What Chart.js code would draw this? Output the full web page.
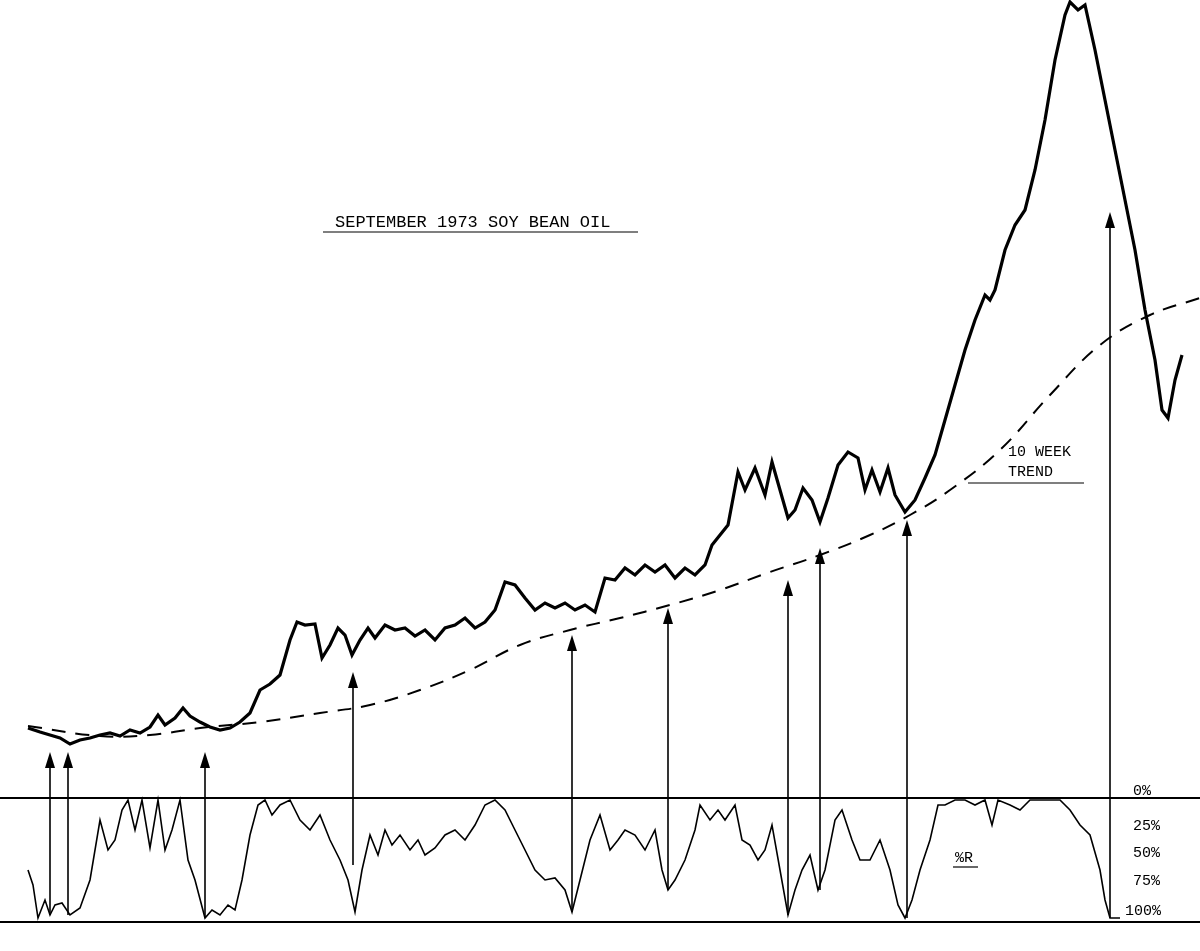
<!DOCTYPE html>
<html><head><meta charset="utf-8">
<script src="https://cdn.jsdelivr.net/npm/chart.js@4"></script>
<style>html,body{margin:0;padding:0;background:#fff}#w{width:1200px;height:951px}</style>
</head><body><div id="w"><canvas id="c"></canvas></div>
<script>
// Session positions and price (arbitrary chart units)
const priceX=[28,40,50,60,70,80,90,100,110,120,130,140,150,158,165,175,183,190,200,210,220,230,240,250,260,270,280,290,297,305,315,322,330,338,345,352,360,368,375,385,395,405,415,425,435,445,455,465,475,485,495,505,515,525,535,545,555,565,575,585,595,605,615,625,635,645,655,665,675,685,695,705,712,720,728,738,745,755,765,772,780,788,795,803,812,820,828,838,848,858,865,872,880,888,895,905,915,925,935,945,955,965,975,985,990,995,1005,1015,1025,1035,1045,1055,1065,1070,1078,1085,1095,1105,1115,1125,1135,1145,1155,1162,1168,1175,1182];
const priceY=[728,732,735,738,744,740,738,735,733,736,730,733,727,715,725,718,708,716,722,727,730,728,722,713,690,684,675,640,622,625,624,658,645,628,635,655,640,628,638,625,630,628,636,630,640,628,625,618,628,622,610,582,585,598,610,603,608,603,610,605,612,578,580,568,575,565,572,565,578,568,575,565,545,535,525,472,490,468,495,462,490,518,510,488,500,522,498,465,452,458,490,470,492,468,495,512,500,478,455,420,385,350,320,295,300,290,250,225,210,170,120,60,15,2,10,5,50,100,150,200,250,310,360,410,418,380,355];
const trendX=[28,100,150,200,260,320,370,420,470,520,570,620,670,720,770,820,870,910,950,1000,1050,1100,1150,1200];
const trendY=[726,736,735,728,722,713,705,690,670,645,630,618,605,590,572,555,535,515,490,450,395,345,315,298];
const rX=[28,33,38,45,50,55,62,70,80,90,100,108,115,122,128,135,142,150,158,165,172,180,188,195,205,212,220,228,235,242,250,258,265,272,280,290,300,310,320,330,340,348,355,362,370,378,385,392,400,410,418,425,435,445,455,465,475,485,495,505,515,525,535,545,555,565,572,580,590,600,610,618,625,635,645,655,662,668,675,685,695,700,710,718,725,735,742,750,758,765,772,780,788,795,802,810,818,825,835,842,852,860,870,880,890,898,905,912,920,930,938,945,955,965,975,985,992,998,1010,1020,1030,1040,1060,1070,1080,1090,1100,1105,1110,1120];
const rY=[870,885,918,900,915,905,903,915,908,880,820,850,840,810,800,830,800,848,800,850,830,800,860,880,918,910,915,905,910,880,835,805,800,815,805,800,820,830,815,840,860,880,912,870,835,855,830,845,835,850,840,855,848,835,830,840,825,805,800,810,830,850,870,880,878,890,912,880,840,815,850,840,830,835,850,830,870,890,880,860,830,805,820,810,820,805,840,845,860,850,825,870,915,890,870,855,890,870,820,810,840,860,860,840,870,905,918,900,870,840,805,805,800,800,805,800,825,800,805,810,800,800,800,810,825,835,870,900,918,918];
const arrowX=[50,68,205,353,572,668,788,820,907,1110];
const arrowFromY=[915,915,918,865,912,890,915,890,918,918];
const arrowToY=[752,752,752,672,635,608,580,548,520,212];
const rLabels=['0%','25%','50%','75%','100%'];
const rLabelY=[790,825,852,880,910];

const TOP=922;
const toP=y=>TOP-y;
const toR=y=>(y-798)/124*100;
const pricePts=priceX.map((x,i)=>({x,y:toP(priceY[i])}));
const trendPts=trendX.map((x,i)=>({x,y:toP(trendY[i])}));
const rPts=rX.map((x,i)=>({x,y:toR(rY[i])}));

const deco={id:'deco',afterDatasetsDraw(ch){
 const c=ch.ctx,xs=ch.scales.x,ys=ch.scales.y;
 c.save();c.strokeStyle='#000';c.fillStyle='#000';
 c.lineWidth=2;
 [798,922].forEach(py=>{c.beginPath();c.moveTo(0,py);c.lineTo(1200,py);c.stroke();});
 c.lineWidth=1.6;
 arrowX.forEach((ax,i)=>{const px=xs.getPixelForValue(ax);const y1=ys.getPixelForValue(toP(arrowFromY[i])),y2=ys.getPixelForValue(toP(arrowToY[i]));
  c.beginPath();c.moveTo(px,y1);c.lineTo(px,y2+10);c.stroke();
  c.beginPath();c.moveTo(px,y2);c.lineTo(px-5,y2+16);c.lineTo(px+5,y2+16);c.closePath();c.fill();});
 c.font='17px "Liberation Mono"';c.textBaseline='alphabetic';
 c.fillText('SEPTEMBER 1973 SOY BEAN OIL',335,227);
 c.lineWidth=1.2;c.beginPath();c.moveTo(323,232);c.lineTo(638,232);c.stroke();
 c.font='15px "Liberation Mono"';
 c.fillText('10 WEEK',1008,456);c.fillText('TREND',1008,476);
 c.beginPath();c.moveTo(968,483);c.lineTo(1084,483);c.stroke();
 c.fillText('%R',955,862);c.beginPath();c.moveTo(953,867);c.lineTo(978,867);c.stroke();
 rLabels.forEach((t,i)=>{c.fillText(t,i==4?1125:1133,rLabelY[i]+5);});
 c.restore();}};

new Chart(document.getElementById('c'),{type:'line',
 data:{datasets:[
  {data:pricePts,borderColor:'#000',borderWidth:3.2,pointRadius:0,tension:0,yAxisID:'y'},
  {data:trendPts,borderColor:'#000',borderWidth:2,borderDash:[14,10],pointRadius:0,tension:0.4,yAxisID:'y'},
  {data:rPts,borderColor:'#000',borderWidth:1.6,pointRadius:0,tension:0,yAxisID:'y2'}]},
 options:{responsive:true,maintainAspectRatio:false,animation:false,
  layout:{padding:{left:0,right:0,top:0,bottom:29}},
  plugins:{legend:{display:false},tooltip:{enabled:false}},
  scales:{x:{type:'linear',min:0,max:1200,display:false},
   y:{min:0,max:TOP,display:false},
   y2:{type:'linear',axis:'y',min:100-TOP/124*100,max:100,reverse:true,display:false}}},
 plugins:[deco]});
</script></body></html>
